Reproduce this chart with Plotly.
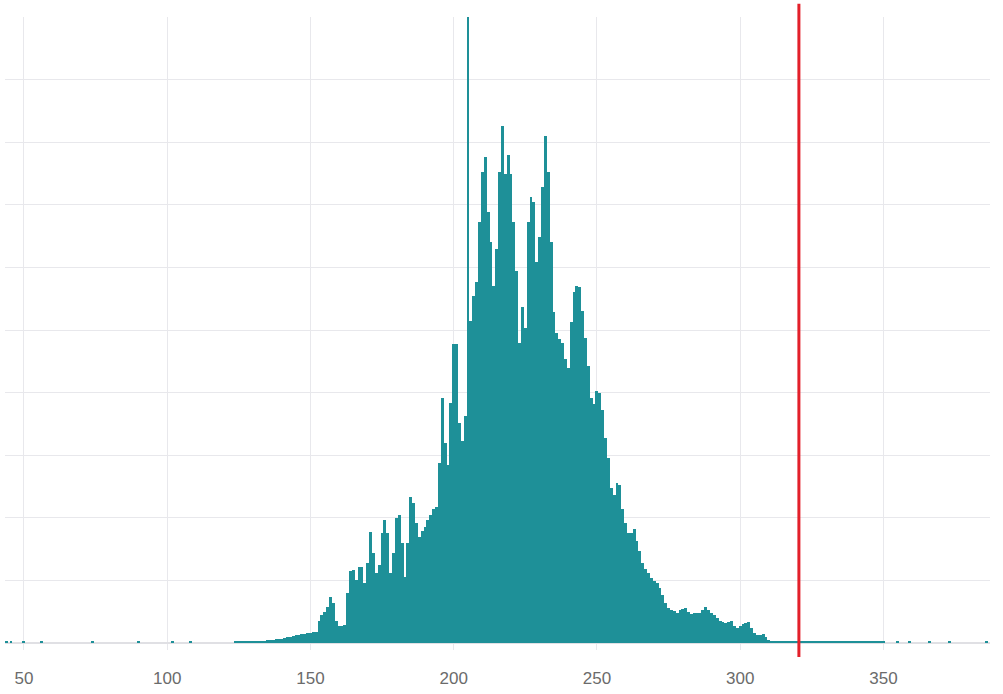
import plotly.graph_objects as go

# main body of the distribution: one bar per unit from x=124 to x=350
body_start = 124
body_counts = [
    2, 2, 2, 2, 2, 2, 3, 3, 3, 3, 4, 5, 5, 5, 6, 6, 7, 8, 9, 10,          # 124-143
    11, 13, 13, 14, 14, 16, 16, 18, 18, 35, 45, 50, 58, 74, 64, 35,        # 144-159
    27, 27, 29, 80, 115, 117, 101, 122, 122, 96,                           # 160-169
    128, 178, 144, 112, 125, 176, 197, 176, 112, 144,                      # 170-179
    200, 205, 160, 106, 160, 234, 224, 192, 170, 179,                      # 180-189
    186, 197, 205, 214, 218, 288, 392, 320, 285, 384,                      # 190-199
    478, 478, 352, 322, 362, 1000, 515, 555, 576, 672,                     # 200-209
    752, 776, 688, 640, 570, 629, 752, 826, 749, 779,                      # 210-219
    749, 672, 595, 480, 536, 504, 672, 712, 704, 608,                      # 220-229
    648, 728, 810, 752, 640, 528, 496, 486, 480, 453,                      # 230-239
    440, 512, 560, 571, 568, 531, 488, 443, 392, 381,                      # 240-249
    403, 400, 373, 328, 296, 248, 237, 256, 253, 214,                      # 250-259
    192, 176, 176, 182, 163, 147, 128, 118, 112, 104,                      # 260-269
    99, 96, 88, 77, 64, 56, 53, 51, 48, 53,                                # 270-279
    54, 56, 50, 46, 48, 48, 48, 53, 58, 53,                                # 280-289
    48, 45, 40, 35, 34, 32, 34, 35, 27, 24,                                # 290-299
    27, 30, 32, 34, 24, 16, 13, 13, 14, 10,                                # 300-309
    5, 3, 2, 2, 2, 2, 2, 2, 2, 2,                                          # 310-319
    2, 2, 2, 2, 2, 2, 2, 2, 2, 2,                                          # 320-329
    2, 2, 2, 2, 2, 2, 2, 2, 2, 2,                                          # 330-339
    2, 2, 2, 2, 2, 2, 2, 2, 2, 2, 2,                                       # 340-350
]
body_x = [body_start + i for i in range(len(body_counts))]

# isolated observations on the far tails
tail_x = [44, 45.5, 50, 56, 74, 90, 102, 108, 355, 359, 366, 373, 386]
tail_counts = [2, 2, 2, 2, 2, 2, 2, 2, 2, 2, 2, 2, 2]

threshold = 320.5
x_ticks = [50, 100, 150, 200, 250, 300, 350]

teal = "#1e9098"

fig = go.Figure()
fig.add_trace(go.Bar(x=body_x + tail_x, y=body_counts + tail_counts, width=1.02,
                     marker=dict(color=teal, line=dict(width=0)),
                     showlegend=False))

fig.add_shape(type="line", xref="x", yref="paper", x0=threshold, x1=threshold,
              y0=-0.0224, y1=1.021, line=dict(color="#e3202a", width=3))

fig.update_layout(
    width=1003, height=694,
    margin=dict(l=5, r=13, t=17, b=51),
    paper_bgcolor="white", plot_bgcolor="white",
    bargap=0,
    xaxis=dict(range=[43.4, 387.2], tickvals=x_ticks, showgrid=True,
               gridcolor="#e8e8ec", gridwidth=1, zeroline=False,
               ticks="outside", ticklen=6, tickcolor="#e8e8ec",
               ticklabelstandoff=14,
               tickfont=dict(family="Liberation Sans, Arial", size=17, color="#6b6b6b"),
               showline=False),
    yaxis=dict(range=[0, 1000], dtick=100, showgrid=True, gridcolor="#e8e8ec",
               gridwidth=1, zeroline=True, zerolinecolor="#e0e0e4",
               showticklabels=False, ticks=""),
)

fig.write_html("out.html", config={"displayModeBar": False},
               post_script="document.body.style.margin='0';document.body.style.overflow='hidden';")
